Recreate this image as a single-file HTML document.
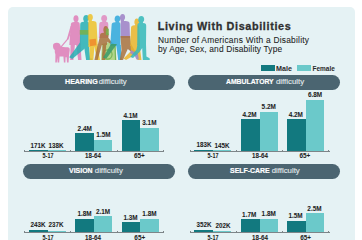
<!DOCTYPE html>
<html><head><meta charset="utf-8"><style>
html,body{margin:0;padding:0;width:362px;height:240px;overflow:hidden;background:#fff;font-family:"Liberation Sans",sans-serif;}
.card{position:absolute;left:8px;top:7px;width:347px;height:260px;background:#e5f2f4;border-radius:5px;}
.pill{position:absolute;width:152px;height:15px;border-radius:7.5px;background:#4b6571;}
.pb,.pd{position:absolute;line-height:20px;font-size:7.8px;white-space:nowrap;transform-origin:0 50%;}
.pb{font-weight:bold;color:#fff;-webkit-text-stroke:0.2px #fff;}
.pd{color:#e3eaed;-webkit-text-stroke:0.12px #e3eaed;}
.axis{position:absolute;height:1px;background:#7d8588;}
.tick{position:absolute;width:1px;height:2px;background:#7d8588;}
.bar{position:absolute;}
.m{background:#12797f;}
.f{background:#6bc9ca;}
.vl,.gl{position:absolute;width:40px;text-align:center;font-size:6.4px;font-weight:bold;color:#1e1e1e;line-height:6.4px;white-space:nowrap;-webkit-text-stroke:0.05px #1e1e1e;}
.title{position:absolute;left:157.7px;top:21.0px;font-size:10.8px;line-height:11px;letter-spacing:0.65px;-webkit-text-stroke:0.3px #303030;font-weight:bold;color:#303030;white-space:nowrap;}
.sub{position:absolute;left:158px;top:35.5px;font-size:8.4px;line-height:9px;color:#1e1e1e;white-space:nowrap;-webkit-text-stroke:0.07px #1e1e1e;}
.leg{position:absolute;top:65.3px;height:5.6px;}
.lt{position:absolute;top:63.5px;font-size:6.5px;font-weight:bold;color:#2a2a2a;line-height:9px;}
</style></head><body>
<div class="card"></div>
<svg style="position:absolute;left:0;top:0" width="362" height="240" viewBox="0 0 362 240">
<g fill="#e07db7" style="opacity:0.85"><path d="M53,46 C52.8,43.8 54.6,42.7 56.8,42.7 C59.2,42.7 60.6,44.2 60.8,46.6 C63,47.3 65.5,47.3 67.6,47.2 C69.2,47.2 70,48.4 69.7,50.2 L69,55.8 L68.6,62.6 L67,62.6 L66.6,57.2 L65.6,57.2 L65.4,62.6 L63.9,62.6 L63.4,56.6 L59.6,56.4 L59.2,62.6 L57.6,62.6 L57.3,57.8 L56.8,62.6 L55.3,62.6 L55.4,54.5 C54.8,53 54.6,51.5 54.8,50 C53.6,49.2 53,48 53,46 Z"/><path d="M60.2,47.0 L67.6,38.2 L68.5,38.9 L61.3,47.6 Z"/><path d="M76.00,15.30 C79.11,15.30 78.97,20.50 77.67,21.10 L77.67,22.10 C79.30,22.10 79.80,23.30 79.80,25.30 L80.80,45.00 L69.30,45.00 L70.80,25.30 C70.80,23.30 71.60,22.10 74.33,22.10 L74.33,21.10 C73.03,20.50 72.89,15.30 76.00,15.30 Z"/><path d="M70.6,26.0 L72.8,27.0 L69.2,37.5 L68.4,39.6 L66.8,39.0 L67.4,37.2 Z"/><path d="M70.6,44.0 L75.0,44.0 L73.4,60.0 L70.2,60.0 Z"/><path d="M76.2,44.0 L80.6,44.0 L81.5,60.0 L78.1,60.0 Z"/></g>
<g fill="#27b0b4" style="opacity:0.85"><path d="M86.20,14.90 C89.71,14.90 89.56,20.10 87.69,20.70 L87.69,21.70 C88.50,21.70 89.00,22.90 89.00,24.90 L88.80,45.00 L79.80,45.00 L80.20,24.90 C80.20,22.90 81.00,21.70 83.91,21.70 L83.91,20.70 C82.84,20.10 82.69,14.90 86.20,14.90 Z"/><path d="M80.0,42.5 L85.5,43.5 L84.8,48.5 L72.2,59.0 L69.2,57.2 Z"/><path d="M83.7,44.0 L88.7,44.0 L90.3,60.0 L86.1,60.0 Z"/><path d="M86.0,58.0 L92.3,58.6 L92.3,60.0 L86.0,60.0 Z"/></g>
<g fill="#78b04a" style="opacity:0.85"><path d="M79.8,30.0 L88.8,30.0 L88.8,34.7 L79.8,34.7 Z"/></g>
<g fill="#efc22c" style="opacity:0.85"><path d="M90.30,14.10 C93.52,14.10 93.38,19.30 91.84,19.90 L91.84,20.90 C96.10,20.90 96.60,22.10 96.60,24.10 L97.80,47.00 L88.40,47.00 L88.20,24.10 C88.20,22.10 89.00,20.90 88.36,20.90 L88.36,19.90 C87.22,19.30 87.08,14.10 90.30,14.10 Z"/><path d="M89.5,46.0 L94.5,46.0 L93.3,60.0 L89.7,60.0 Z"/><path d="M94.2,46.0 L97.8,46.0 L100.0,60.0 L97.0,60.0 Z"/></g>
<g fill="#ee8a2c" style="opacity:0.85"><path d="M89.4,39.5 L95.8,38.8 L96.4,45.3 L90.0,46.2 Z"/></g>
<g fill="#e18abe" style="opacity:0.85"><path d="M104.20,14.90 C107.82,14.90 107.67,20.10 106.15,20.70 L106.15,21.70 C107.80,21.70 108.30,22.90 108.30,24.90 L108.00,38.00 L98.80,38.00 L99.20,24.90 C99.20,22.90 100.00,21.70 102.25,21.70 L102.25,20.70 C100.73,20.10 100.58,14.90 104.20,14.90 Z"/></g>
<g fill="#9ccb5c" style="opacity:0.7"><path d="M102.0,44.0 L110.0,42.0 L115.5,46.0 L116.5,60.0 L101.0,60.0 Z"/></g>
<g fill="none" stroke="#6fb04e" stroke-width="1.1" style="opacity:0.9"><circle cx="107.5" cy="54.5" r="4.6"/><path d="M109.5,41.5 L115,45 L115.5,60"/></g>
<g fill="#a9723c" style="opacity:0.85"><path d="M105.80,26.00 C108.62,26.00 108.50,31.20 106.92,31.80 L106.92,32.80 C108.10,32.80 108.60,34.00 108.60,36.00 L106.80,45.00 L97.80,45.00 L100.00,36.00 C100.00,34.00 100.80,32.80 103.88,32.80 L103.88,31.80 C103.11,31.20 102.98,26.00 105.80,26.00 Z"/><path d="M106.0,36.0 L108.6,38.0 L112.0,42.5 L111.0,44.0 L106.0,41.0 Z"/><path d="M97.9,44.0 L102.1,44.0 L97.6,60.0 L94.4,60.0 Z"/><path d="M102.7,44.0 L106.3,44.0 L105.0,60.0 L102.0,60.0 Z"/></g>
<g fill="#78b04a" style="opacity:0.9"><path d="M105.9,28.3 L108.8,28.8 L108.8,35.3 L105.9,35.0 Z"/></g>
<g fill="#30a9dc" style="opacity:0.85"><path d="M117.50,15.50 C120.95,15.50 120.80,20.70 119.16,21.30 L119.16,22.30 C119.90,22.30 120.40,23.50 120.40,25.50 L120.50,46.00 L110.20,46.00 L111.60,25.50 C111.60,23.50 112.40,22.30 115.44,22.30 L115.44,21.30 C114.20,20.70 114.05,15.50 117.50,15.50 Z"/><path d="M116.2,45.0 L120.8,45.0 L121.8,60.0 L118.2,60.0 Z"/></g>
<g fill="#3e9c6a" style="opacity:0.9"><path d="M111.0,44.0 L117.0,44.0 L106.5,58.6 L103.0,57.8 Z"/></g>
<g fill="#9e80c4" style="opacity:0.85"><path d="M122.60,14.10 C125.76,14.10 125.62,19.30 124.00,19.90 L124.00,20.90 C129.10,20.90 129.60,22.10 129.60,24.10 L130.00,38.00 L120.80,38.00 L120.60,24.10 C120.60,22.10 121.40,20.90 120.59,20.90 L120.59,19.90 C119.57,19.30 119.44,14.10 122.60,14.10 Z"/></g>
<g fill="#a9723c" style="opacity:0.85"><path d="M120.5,36.0 L130.2,36.0 L131.0,44.0 L134.5,50.0 L138.0,53.5 L136.5,55.5 L131.5,52.0 L127.8,49.0 L125.5,54.0 L123.0,60.0 L119.8,60.0 L121.5,50.0 Z"/></g>
<g fill="#edb62b" style="opacity:0.85"><path d="M136.80,18.40 C139.62,18.40 139.49,23.60 138.12,24.20 L138.12,25.20 C138.70,25.20 139.20,26.40 139.20,28.40 L140.00,46.00 L130.20,46.00 L131.00,28.40 C131.00,26.40 131.80,25.20 135.08,25.20 L135.08,24.20 C134.10,23.60 133.98,18.40 136.80,18.40 Z"/><path d="M130.5,45.0 L139.5,45.0 L141.5,60.0 L137.5,60.0 L136.0,52.0 L132.0,56.5 L126.0,60.0 L123.6,58.5 L131.0,51.0 Z"/></g>
<g fill="#a08ac9" style="opacity:0.9"><path d="M131.0,50.0 L138.0,54.0 L138.8,59.5 L136.5,59.5 L134.8,56.0 L130.0,53.0 Z"/></g>
<g fill="#35b9b9" style="opacity:0.85"><path d="M141.30,16.10 C144.92,16.10 144.77,21.30 142.95,21.90 L142.95,22.90 C145.70,22.90 146.20,24.10 146.20,26.10 L146.00,45.00 L137.20,45.00 L137.40,26.10 C137.40,24.10 138.20,22.90 139.05,22.90 L139.05,21.90 C137.84,21.30 137.68,16.10 141.30,16.10 Z"/><path d="M137.5,44.0 L146.0,44.0 L146.4,56.5 L149.6,58.3 L149.8,60.0 L142.8,60.0 L142.2,48.0 L139.5,52.0 L133.0,58.0 L130.2,57.0 L136.5,49.5 Z"/></g>
</svg>

<div class="title">Living With Disabilities</div>
<div class="sub"><span style="letter-spacing:0.24px">Number of Americans With a Disability</span><br><span style="letter-spacing:0.15px">by Age, Sex, and Disability Type</span></div>
<div class="leg" style="left:260.8px;width:14.2px;background:#12797f"></div>
<div class="lt" style="left:276.3px;transform:scaleX(1.1);transform-origin:0 50%">Male</div>
<div class="leg" style="left:296.5px;width:14px;background:#6bc9ca"></div>
<div class="lt" style="left:312.5px">Female</div>
<div class="pill" style="left:23.1px;top:74.6px"></div>
<div class="pb" style="left:64.80px;top:72.10px;transform:scaleX(0.911)">HEARING</div>
<div class="pd" style="left:98.70px;top:72.10px">difficulty</div>
<div class="axis" style="left:24px;top:150.7px;width:140.2px"></div>
<div class="tick" style="left:23.5px;top:149.7px"></div>
<div class="tick" style="left:69.8px;top:149.7px"></div>
<div class="tick" style="left:116.7px;top:149.7px"></div>
<div class="tick" style="left:162.7px;top:149.7px"></div>
<div class="bar m" style="left:29.10px;top:149.91px;width:18.6px;height:1.29px"></div>
<div class="bar f" style="left:47.70px;top:150.10px;width:18.6px;height:1.10px"></div>
<div class="vl" style="left:18.15px;top:143.03px;transform:scaleX(0.98)">171K</div>
<div class="vl" style="left:35.75px;top:143.03px;transform:scaleX(0.98)">138K</div>
<div class="gl" style="left:27.50px;top:153.03px;transform:scaleX(0.85)">5-17</div>
<div class="bar m" style="left:75.30px;top:133.08px;width:18.6px;height:18.12px"></div>
<div class="bar f" style="left:93.90px;top:139.88px;width:18.6px;height:11.32px"></div>
<div class="vl" style="left:64.70px;top:126.23px;transform:scaleX(1.0)">2.4M</div>
<div class="vl" style="left:83.45px;top:131.93px;transform:scaleX(1.0)">1.5M</div>
<div class="gl" style="left:73.35px;top:153.03px;transform:scaleX(0.97)">18-64</div>
<div class="bar m" style="left:121.50px;top:120.24px;width:18.6px;height:30.95px"></div>
<div class="bar f" style="left:140.10px;top:127.79px;width:18.6px;height:23.41px"></div>
<div class="vl" style="left:110.50px;top:112.83px;transform:scaleX(1.0)">4.1M</div>
<div class="vl" style="left:129.40px;top:120.13px;transform:scaleX(1.0)">3.1M</div>
<div class="gl" style="left:119.30px;top:153.03px;transform:scaleX(1.0)">65+</div>
<div class="pill" style="left:188px;top:74.6px"></div>
<div class="pb" style="left:226.20px;top:72.10px;transform:scaleX(0.876)">AMBULATORY</div>
<div class="pd" style="left:276.00px;top:72.10px">difficulty</div>
<div class="axis" style="left:190px;top:150.7px;width:139.7px"></div>
<div class="tick" style="left:189.5px;top:149.7px"></div>
<div class="tick" style="left:236.1px;top:149.7px"></div>
<div class="tick" style="left:282.4px;top:149.7px"></div>
<div class="tick" style="left:328.2px;top:149.7px"></div>
<div class="bar m" style="left:194.30px;top:149.82px;width:18.6px;height:1.38px"></div>
<div class="bar f" style="left:212.90px;top:150.10px;width:18.6px;height:1.10px"></div>
<div class="vl" style="left:183.90px;top:141.73px;transform:scaleX(0.98)">183K</div>
<div class="vl" style="left:201.85px;top:143.13px;transform:scaleX(0.98)">145K</div>
<div class="gl" style="left:193.15px;top:153.03px;transform:scaleX(0.85)">5-17</div>
<div class="bar m" style="left:241.00px;top:119.49px;width:18.6px;height:31.71px"></div>
<div class="bar f" style="left:259.60px;top:111.94px;width:18.6px;height:39.26px"></div>
<div class="vl" style="left:229.60px;top:112.33px;transform:scaleX(1.0)">4.2M</div>
<div class="vl" style="left:248.70px;top:104.03px;transform:scaleX(1.0)">5.2M</div>
<div class="gl" style="left:239.60px;top:153.03px;transform:scaleX(0.97)">18-64</div>
<div class="bar m" style="left:287.10px;top:119.49px;width:18.6px;height:31.71px"></div>
<div class="bar f" style="left:305.70px;top:99.86px;width:18.6px;height:51.34px"></div>
<div class="vl" style="left:275.80px;top:112.33px;transform:scaleX(1.0)">4.2M</div>
<div class="vl" style="left:295.00px;top:91.63px;transform:scaleX(1.0)">6.8M</div>
<div class="gl" style="left:284.90px;top:153.03px;transform:scaleX(1.0)">65+</div>
<div class="pill" style="left:23.1px;top:163.9px"></div>
<div class="pb" style="left:69.30px;top:160.80px;transform:scaleX(0.892)">VISION</div>
<div class="pd" style="left:94.80px;top:160.80px">difficulty</div>
<div class="axis" style="left:24px;top:231.8px;width:140.2px"></div>
<div class="tick" style="left:23.5px;top:230.8px"></div>
<div class="tick" style="left:69.8px;top:230.8px"></div>
<div class="tick" style="left:117.1px;top:230.8px"></div>
<div class="tick" style="left:162.7px;top:230.8px"></div>
<div class="bar m" style="left:29.10px;top:230.47px;width:18.6px;height:1.83px"></div>
<div class="bar f" style="left:47.70px;top:230.51px;width:18.6px;height:1.79px"></div>
<div class="vl" style="left:18.05px;top:221.93px;transform:scaleX(0.98)">243K</div>
<div class="vl" style="left:36.45px;top:221.93px;transform:scaleX(0.98)">237K</div>
<div class="gl" style="left:27.50px;top:234.83px;transform:scaleX(0.85)">5-17</div>
<div class="bar m" style="left:75.30px;top:218.71px;width:18.6px;height:13.59px"></div>
<div class="bar f" style="left:93.90px;top:216.45px;width:18.6px;height:15.86px"></div>
<div class="vl" style="left:64.50px;top:211.23px;transform:scaleX(1.0)">1.8M</div>
<div class="vl" style="left:83.05px;top:208.73px;transform:scaleX(1.0)">2.1M</div>
<div class="gl" style="left:73.35px;top:234.83px;transform:scaleX(0.97)">18-64</div>
<div class="bar m" style="left:121.50px;top:222.49px;width:18.6px;height:9.81px"></div>
<div class="bar f" style="left:140.10px;top:218.71px;width:18.6px;height:13.59px"></div>
<div class="vl" style="left:110.60px;top:215.13px;transform:scaleX(1.0)">1.3M</div>
<div class="vl" style="left:129.45px;top:211.23px;transform:scaleX(1.0)">1.8M</div>
<div class="gl" style="left:119.75px;top:234.83px;transform:scaleX(1.0)">65+</div>
<div class="pill" style="left:188px;top:163.9px"></div>
<div class="pb" style="left:230.40px;top:160.80px;transform:scaleX(0.890)">SELF-CARE</div>
<div class="pd" style="left:271.70px;top:160.80px">difficulty</div>
<div class="axis" style="left:190px;top:231.8px;width:139.7px"></div>
<div class="tick" style="left:189.5px;top:230.8px"></div>
<div class="tick" style="left:235.9px;top:230.8px"></div>
<div class="tick" style="left:282.3px;top:230.8px"></div>
<div class="tick" style="left:328.2px;top:230.8px"></div>
<div class="bar m" style="left:194.30px;top:229.64px;width:18.6px;height:2.66px"></div>
<div class="bar f" style="left:212.90px;top:230.77px;width:18.6px;height:1.53px"></div>
<div class="vl" style="left:184.05px;top:221.73px;transform:scaleX(0.98)">352K</div>
<div class="vl" style="left:202.65px;top:222.83px;transform:scaleX(0.98)">202K</div>
<div class="gl" style="left:192.90px;top:234.83px;transform:scaleX(0.85)">5-17</div>
<div class="bar m" style="left:241.00px;top:219.47px;width:18.6px;height:12.83px"></div>
<div class="bar f" style="left:259.60px;top:218.71px;width:18.6px;height:13.59px"></div>
<div class="vl" style="left:229.20px;top:212.03px;transform:scaleX(1.0)">1.7M</div>
<div class="vl" style="left:248.70px;top:210.63px;transform:scaleX(1.0)">1.8M</div>
<div class="gl" style="left:239.60px;top:234.83px;transform:scaleX(0.97)">18-64</div>
<div class="bar m" style="left:287.10px;top:220.98px;width:18.6px;height:11.32px"></div>
<div class="bar f" style="left:305.70px;top:213.43px;width:18.6px;height:18.88px"></div>
<div class="vl" style="left:275.60px;top:213.23px;transform:scaleX(1.0)">1.5M</div>
<div class="vl" style="left:294.45px;top:205.83px;transform:scaleX(1.0)">2.5M</div>
<div class="gl" style="left:285.65px;top:234.83px;transform:scaleX(1.0)">65+</div>
</body></html>
